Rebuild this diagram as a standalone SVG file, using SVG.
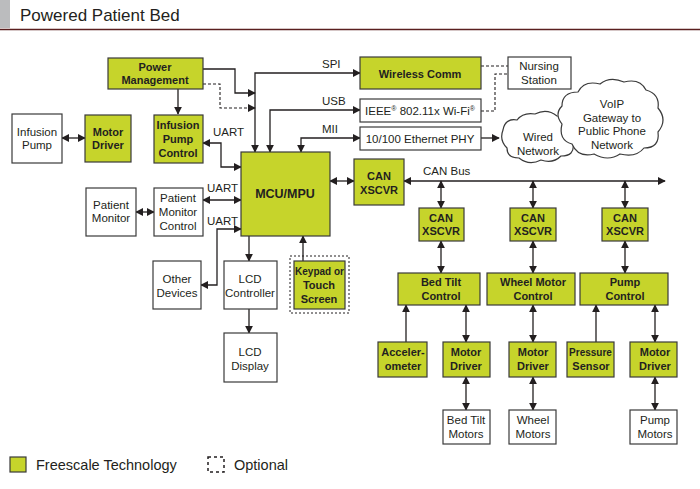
<svg xmlns="http://www.w3.org/2000/svg" width="700" height="489" viewBox="0 0 700 489">
<defs>
<marker id="a" viewBox="0 0 10 10" refX="9" refY="5" markerWidth="8" markerHeight="8" markerUnits="userSpaceOnUse" orient="auto-start-reverse"><path d="M0,0L10,5L0,10z" fill="#231f20"/></marker>
<style>
.g{fill:#c6d42b;stroke:#3a3a3a;stroke-width:1.2}
.w{fill:#fff;stroke:#3a3a3a;stroke-width:1.2}
.t{font-family:"Liberation Sans",Arial,sans-serif;font-size:11.5px;fill:#231f20;text-anchor:middle}
.b{font-weight:bold;font-size:11px}
.l{font-family:"Liberation Sans",Arial,sans-serif;font-size:11.5px;fill:#231f20}
.c{fill:none;stroke:#231f20;stroke-width:1.3}
.d{fill:none;stroke:#231f20;stroke-width:1.1;stroke-dasharray:3,2}
</style>
</defs>
<rect width="700" height="489" fill="#fff"/>
<rect x="0" y="0" width="10" height="28" fill="#bbbcbe"/>
<text x="20" y="21" style="font-family:'Liberation Sans',Arial,sans-serif;font-size:17px;fill:#231f20">Powered Patient Bed</text>
<line x1="0" y1="29.5" x2="700" y2="29.5" stroke="#5a1f1f" stroke-width="1.5"/>

<g id="connectors">
<polyline class="c" points="203,69 235,69 235,93 255,93" marker-end="url(#a)"/>
<polyline class="d" points="203,84 220,84 220,108 255,108" marker-end="url(#a)"/>
<line class="c" x1="178" y1="89" x2="178" y2="114" marker-end="url(#a)"/>
<polyline class="c" points="360,73 255,73 255,152" marker-start="url(#a)" marker-end="url(#a)"/>
<polyline class="c" points="360,110 270,110 270,152" marker-start="url(#a)" marker-end="url(#a)"/>
<polyline class="c" points="360,138 301,138 301,152" marker-start="url(#a)" marker-end="url(#a)"/>
<line class="c" x1="481" y1="138" x2="499" y2="138" marker-end="url(#a)"/>
<line class="d" x1="481" y1="66" x2="508" y2="66"/>
<polyline class="d" points="481,111 495,111 495,74 508,74"/>
<line class="c" x1="62" y1="138" x2="85" y2="138" marker-start="url(#a)" marker-end="url(#a)"/>
<polyline class="c" points="241,167 221,167 221,143 203,143" marker-start="url(#a)" marker-end="url(#a)"/>
<line class="c" x1="203" y1="200" x2="241" y2="200" marker-start="url(#a)" marker-end="url(#a)"/>
<line class="c" x1="136" y1="212" x2="154" y2="212" marker-start="url(#a)" marker-end="url(#a)"/>
<polyline class="c" points="241,229 217,229 217,285 201,285" marker-start="url(#a)" marker-end="url(#a)"/>
<line class="c" x1="249" y1="236" x2="249" y2="261" marker-end="url(#a)"/>
<line class="c" x1="249" y1="309" x2="249" y2="333" marker-end="url(#a)"/>
<line class="c" x1="303" y1="261" x2="303" y2="236" marker-end="url(#a)"/>
<line class="c" x1="330" y1="181" x2="354" y2="181" marker-start="url(#a)" marker-end="url(#a)"/>
<line class="c" x1="404" y1="181" x2="665" y2="181" marker-start="url(#a)" marker-end="url(#a)"/>
<line class="c" x1="441" y1="181" x2="441" y2="208" marker-start="url(#a)" marker-end="url(#a)"/>
<line class="c" x1="533" y1="181" x2="533" y2="208" marker-start="url(#a)" marker-end="url(#a)"/>
<line class="c" x1="625" y1="181" x2="625" y2="208" marker-start="url(#a)" marker-end="url(#a)"/>
<line class="c" x1="441" y1="241" x2="441" y2="273" marker-start="url(#a)" marker-end="url(#a)"/>
<line class="c" x1="533" y1="241" x2="533" y2="273" marker-start="url(#a)" marker-end="url(#a)"/>
<line class="c" x1="625" y1="241" x2="625" y2="273" marker-start="url(#a)" marker-end="url(#a)"/>
<line class="c" x1="406" y1="342" x2="406" y2="305" marker-end="url(#a)"/>
<line class="c" x1="596" y1="342" x2="596" y2="305" marker-end="url(#a)"/>
<line class="c" x1="466" y1="305" x2="466" y2="342" marker-start="url(#a)" marker-end="url(#a)"/>
<line class="c" x1="533" y1="305" x2="533" y2="342" marker-start="url(#a)" marker-end="url(#a)"/>
<line class="c" x1="655" y1="305" x2="655" y2="342" marker-start="url(#a)" marker-end="url(#a)"/>
<line class="c" x1="466" y1="377" x2="466" y2="410" marker-start="url(#a)" marker-end="url(#a)"/>
<line class="c" x1="533" y1="377" x2="533" y2="410" marker-start="url(#a)" marker-end="url(#a)"/>
<line class="c" x1="655" y1="377" x2="655" y2="410" marker-start="url(#a)" marker-end="url(#a)"/>
</g>
<g id="labels">
<text class="l" x="322" y="68">SPI</text>
<text class="l" x="322" y="105">USB</text>
<text class="l" x="322" y="133">MII</text>
<text class="l" x="213" y="136">UART</text>
<text class="l" x="207" y="192">UART</text>
<text class="l" x="207" y="225">UART</text>
<text class="l" x="423" y="175">CAN Bus</text>
</g>

<g id="power"><rect class="g" x="108" y="58" width="95" height="31"/><text class="t b" x="155" y="71">Power</text><text class="t b" x="155" y="84">Management</text></g>
<g id="infpumpctl"><rect class="g" x="154" y="115" width="49" height="48"/><text class="t b" x="178" y="129">Infusion</text><text class="t b" x="178" y="143">Pump</text><text class="t b" x="178" y="157">Control</text></g>
<g id="infpump"><rect class="w" x="12" y="114" width="50" height="49"/><text class="t" x="37" y="136">Infusion</text><text class="t" x="37" y="149">Pump</text></g>
<g id="motordrv0"><rect class="g" x="85" y="115" width="46" height="47"/><text class="t b" x="108" y="136">Motor</text><text class="t b" x="108" y="149">Driver</text></g>
<g id="mcu"><rect class="g" x="241" y="152" width="89" height="84"/><text class="t b" x="285" y="198" style="font-size:12.5px">MCU/MPU</text></g>
<g id="wireless"><rect class="g" x="360" y="57" width="121" height="32"/><text class="t b" x="420" y="78">Wireless Comm</text></g>
<g id="wifi"><rect class="w" x="360" y="99" width="121" height="23"/><text class="t" x="420" y="115">IEEE<tspan font-size="7" dy="-4">®</tspan><tspan dy="4"> 802.11x Wi-Fi</tspan><tspan font-size="7" dy="-4">®</tspan></text></g>
<g id="eth"><rect class="w" x="360" y="127" width="121" height="23"/><text class="t" x="420" y="143">10/100 Ethernet PHY</text></g>
<g id="nursing"><rect class="w" x="508" y="57" width="63" height="32"/><text class="t" x="539" y="70">Nursing</text><text class="t" x="539" y="84">Station</text></g>
<g id="wired"><path class="w" d="M503,130 q2,-12 14,-10 q6,-8 18,-6 q12,-6 22,2 q12,0 14,12 q8,8 2,16 q2,12 -12,12 q-8,8 -20,4 q-12,6 -22,-2 q-12,0 -12,-10 q-8,-8 -4,-18z"/><text class="t" x="538" y="141">Wired</text><text class="t" x="538" y="155">Network</text></g>
<g id="voip"><path class="w" d="M562,106 q0,-14 16,-14 q6,-12 22,-8 q10,-8 24,-2 q16,-4 22,8 q14,4 12,18 q10,12 0,24 q2,16 -14,16 q-8,10 -24,6 q-12,8 -26,0 q-16,4 -22,-10 q-14,-4 -10,-20 q-8,-10 0,-18z"/><text class="t" x="612" y="108">VoIP</text><text class="t" x="612" y="122">Gateway to</text><text class="t" x="612" y="135">Public Phone</text><text class="t" x="612" y="149">Network</text></g>
<g id="pmon"><rect class="w" x="86" y="188" width="50" height="48"/><text class="t" x="111" y="209">Patient</text><text class="t" x="111" y="222">Monitor</text></g>
<g id="pmonctl"><rect class="w" x="154" y="188" width="49" height="48"/><text class="t" x="178" y="202">Patient</text><text class="t" x="178" y="216">Monitor</text><text class="t" x="178" y="230">Control</text></g>
<g id="other"><rect class="w" x="153" y="261" width="48" height="48"/><text class="t" x="177" y="283">Other</text><text class="t" x="177" y="297">Devices</text></g>
<g id="lcdctl"><rect class="w" x="224" y="261" width="53" height="48"/><text class="t" x="250" y="283">LCD</text><text class="t" x="250" y="297">Controller</text></g>
<g id="lcddisp"><rect class="w" x="224" y="333" width="53" height="49"/><text class="t" x="250" y="356">LCD</text><text class="t" x="250" y="370">Display</text></g>
<g id="keypad"><rect x="290" y="256" width="59" height="57" fill="none" stroke="#231f20" stroke-dasharray="2,2"/><rect class="g" x="294" y="261" width="51" height="48"/><text class="t b" x="319.5" y="275" style="font-size:10px">Keypad or</text><text class="t b" x="319" y="289">Touch</text><text class="t b" x="319" y="303">Screen</text></g>
<g id="can0"><rect class="g" x="354" y="159" width="50" height="46"/><text class="t b" x="379" y="180">CAN</text><text class="t b" x="379" y="194">XSCVR</text></g>
<g id="can1"><rect class="g" x="419" y="208" width="45" height="33"/><text class="t b" x="441" y="222">CAN</text><text class="t b" x="441" y="235">XSCVR</text></g>
<g id="can2"><rect class="g" x="510" y="208" width="46" height="33"/><text class="t b" x="533" y="222">CAN</text><text class="t b" x="533" y="235">XSCVR</text></g>
<g id="can3"><rect class="g" x="602" y="208" width="46" height="33"/><text class="t b" x="625" y="222">CAN</text><text class="t b" x="625" y="235">XSCVR</text></g>
<g id="bedtilt"><rect class="g" x="398" y="273" width="82" height="32"/><text class="t b" x="441" y="286">Bed Tilt</text><text class="t b" x="441" y="300">Control</text></g>
<g id="wheelctl"><rect class="g" x="487" y="273" width="88" height="32"/><text class="t b" x="533" y="286">Wheel Motor</text><text class="t b" x="533" y="300">Control</text></g>
<g id="pumpctl"><rect class="g" x="580" y="273" width="88" height="32"/><text class="t b" x="625" y="286">Pump</text><text class="t b" x="625" y="300">Control</text></g>
<g id="accel"><rect class="g" x="378" y="342" width="49" height="35"/><text class="t b" x="403" y="356">Acceler-</text><text class="t b" x="403" y="370">ometer</text></g>
<g id="md1"><rect class="g" x="443" y="342" width="47" height="35"/><text class="t b" x="466" y="356">Motor</text><text class="t b" x="466" y="370">Driver</text></g>
<g id="md2"><rect class="g" x="509" y="342" width="47" height="35"/><text class="t b" x="533" y="356">Motor</text><text class="t b" x="533" y="370">Driver</text></g>
<g id="pressure"><rect class="g" x="567" y="342" width="47" height="35"/><text class="t b" x="590.5" y="356" style="font-size:10px">Pressure</text><text class="t b" x="591" y="370">Sensor</text></g>
<g id="md3"><rect class="g" x="630" y="342" width="47" height="35"/><text class="t b" x="655" y="356">Motor</text><text class="t b" x="655" y="370">Driver</text></g>
<g id="btm"><rect class="w" x="443" y="410" width="47" height="34"/><text class="t" x="466" y="424">Bed Tilt</text><text class="t" x="466" y="438">Motors</text></g>
<g id="wm"><rect class="w" x="509" y="410" width="47" height="34"/><text class="t" x="533" y="424">Wheel</text><text class="t" x="533" y="438">Motors</text></g>
<g id="pm"><rect class="w" x="630" y="410" width="47" height="34"/><text class="t" x="655" y="424">Pump</text><text class="t" x="655" y="438">Motors</text></g>
<g id="legend">
<rect class="g" x="10" y="457" width="16" height="15"/>
<text x="36" y="470" style="font-family:'Liberation Sans',Arial,sans-serif;font-size:14.5px;fill:#231f20">Freescale Technology</text>
<rect x="208" y="457" width="16" height="15" fill="none" stroke="#231f20" stroke-width="1.5" stroke-dasharray="3,3"/>
<text x="234" y="470" style="font-family:'Liberation Sans',Arial,sans-serif;font-size:14.5px;fill:#231f20">Optional</text>
</g>
</svg>
